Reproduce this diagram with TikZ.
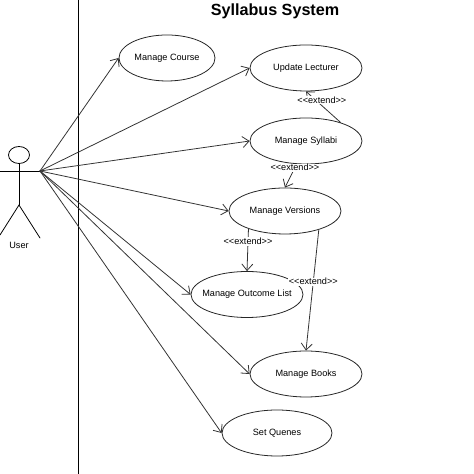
\documentclass[tikz,border=0pt]{standalone}
\usepackage{fontspec}
\setmainfont{Liberation Sans}
\usetikzlibrary{arrows.meta,shapes.geometric}

\begin{document}
\begin{tikzpicture}[>={Straight Barb[length=1.3mm,width=2.2mm]},font=\fontsize{5.2}{6}\selectfont,line cap=round,
  usecase/.style={draw,ellipse,inner sep=0pt,minimum width=2.24cm,minimum height=0.92cm,line width=0.45pt,draw=black!85},
  assoc/.style={->,line width=0.45pt,draw=black!80},
  extendlabel/.style={fill=white,inner sep=0.4pt,font=\fontsize{5.2}{5}\selectfont}]
\useasboundingbox (0,0) rectangle (9.48,9.48);
\fill[white] (0,0) rectangle (9.48,9.48);
\node[font=\fontsize{9.2}{10}\selectfont\bfseries] (title) at (5.50,9.26) {Syllabus System};
% system boundary
\coordinate (boundtop) at (1.57,9.48);
\coordinate (boundbot) at (1.57,0);
\draw[line width=0.6pt] (boundtop) -- (boundbot);
% actor
\node[draw,ellipse,inner sep=0pt,minimum width=0.42cm,minimum height=0.34cm,line width=0.45pt] (head) at (0.38,6.38) {};
\coordinate (hip) at (0.38,5.38);
\coordinate (armend) at (0,6.06);
\coordinate (hand) at (0.80,6.06);
\coordinate (footl) at (0,4.78);
\coordinate (footr) at (0.80,4.72);
\draw[line width=0.45pt] (head.south) -- (hip);
\draw[line width=0.45pt] (armend) -- (hand);
\draw[line width=0.45pt] (footl) -- (hip) -- (footr);
\node (user) at (0.38,4.58) {User};
% use cases
\node[usecase,minimum width=1.92cm] (course) at (3.34,8.32) {Manage Course};
\node[usecase] (lecturer) at (6.12,8.12) {Update Lecturer};
\node[usecase] (syllabi) at (6.12,6.66) {Manage Syllabi};
\node[usecase] (versions) at (5.70,5.26) {Manage Versions};
\node[usecase,label=center:Manage Outcome List] (outcome) at (4.94,3.59) {};
\node[usecase] (books) at (6.12,2.00) {Manage Books};
\node[usecase,minimum width=2.2cm] (quenes) at (5.54,0.82) {Set Quenes};
% associations
\foreach \uc in {course,lecturer,syllabi,versions,outcome,books,quenes}
  \draw[assoc] (hand) -- (\uc.west);
% extends
\draw[assoc] (syllabi.28) -- node[extendlabel,pos=0.72,xshift=3.5pt] (ext1) {<{}<extend>{}>} (lecturer.south);
\draw[assoc] (syllabi.248) -- node[extendlabel,pos=0.15] (ext2) {<{}<extend>{}>} (versions.north);
\draw[assoc] (versions.206) -- node[extendlabel,pos=0.3] (ext3) {<{}<extend>{}>} (outcome.north);
\draw[assoc] (versions.331) -- node[extendlabel,pos=0.43] (ext4) {<{}<extend>{}>} (books.north);
\end{tikzpicture}
\end{document}
